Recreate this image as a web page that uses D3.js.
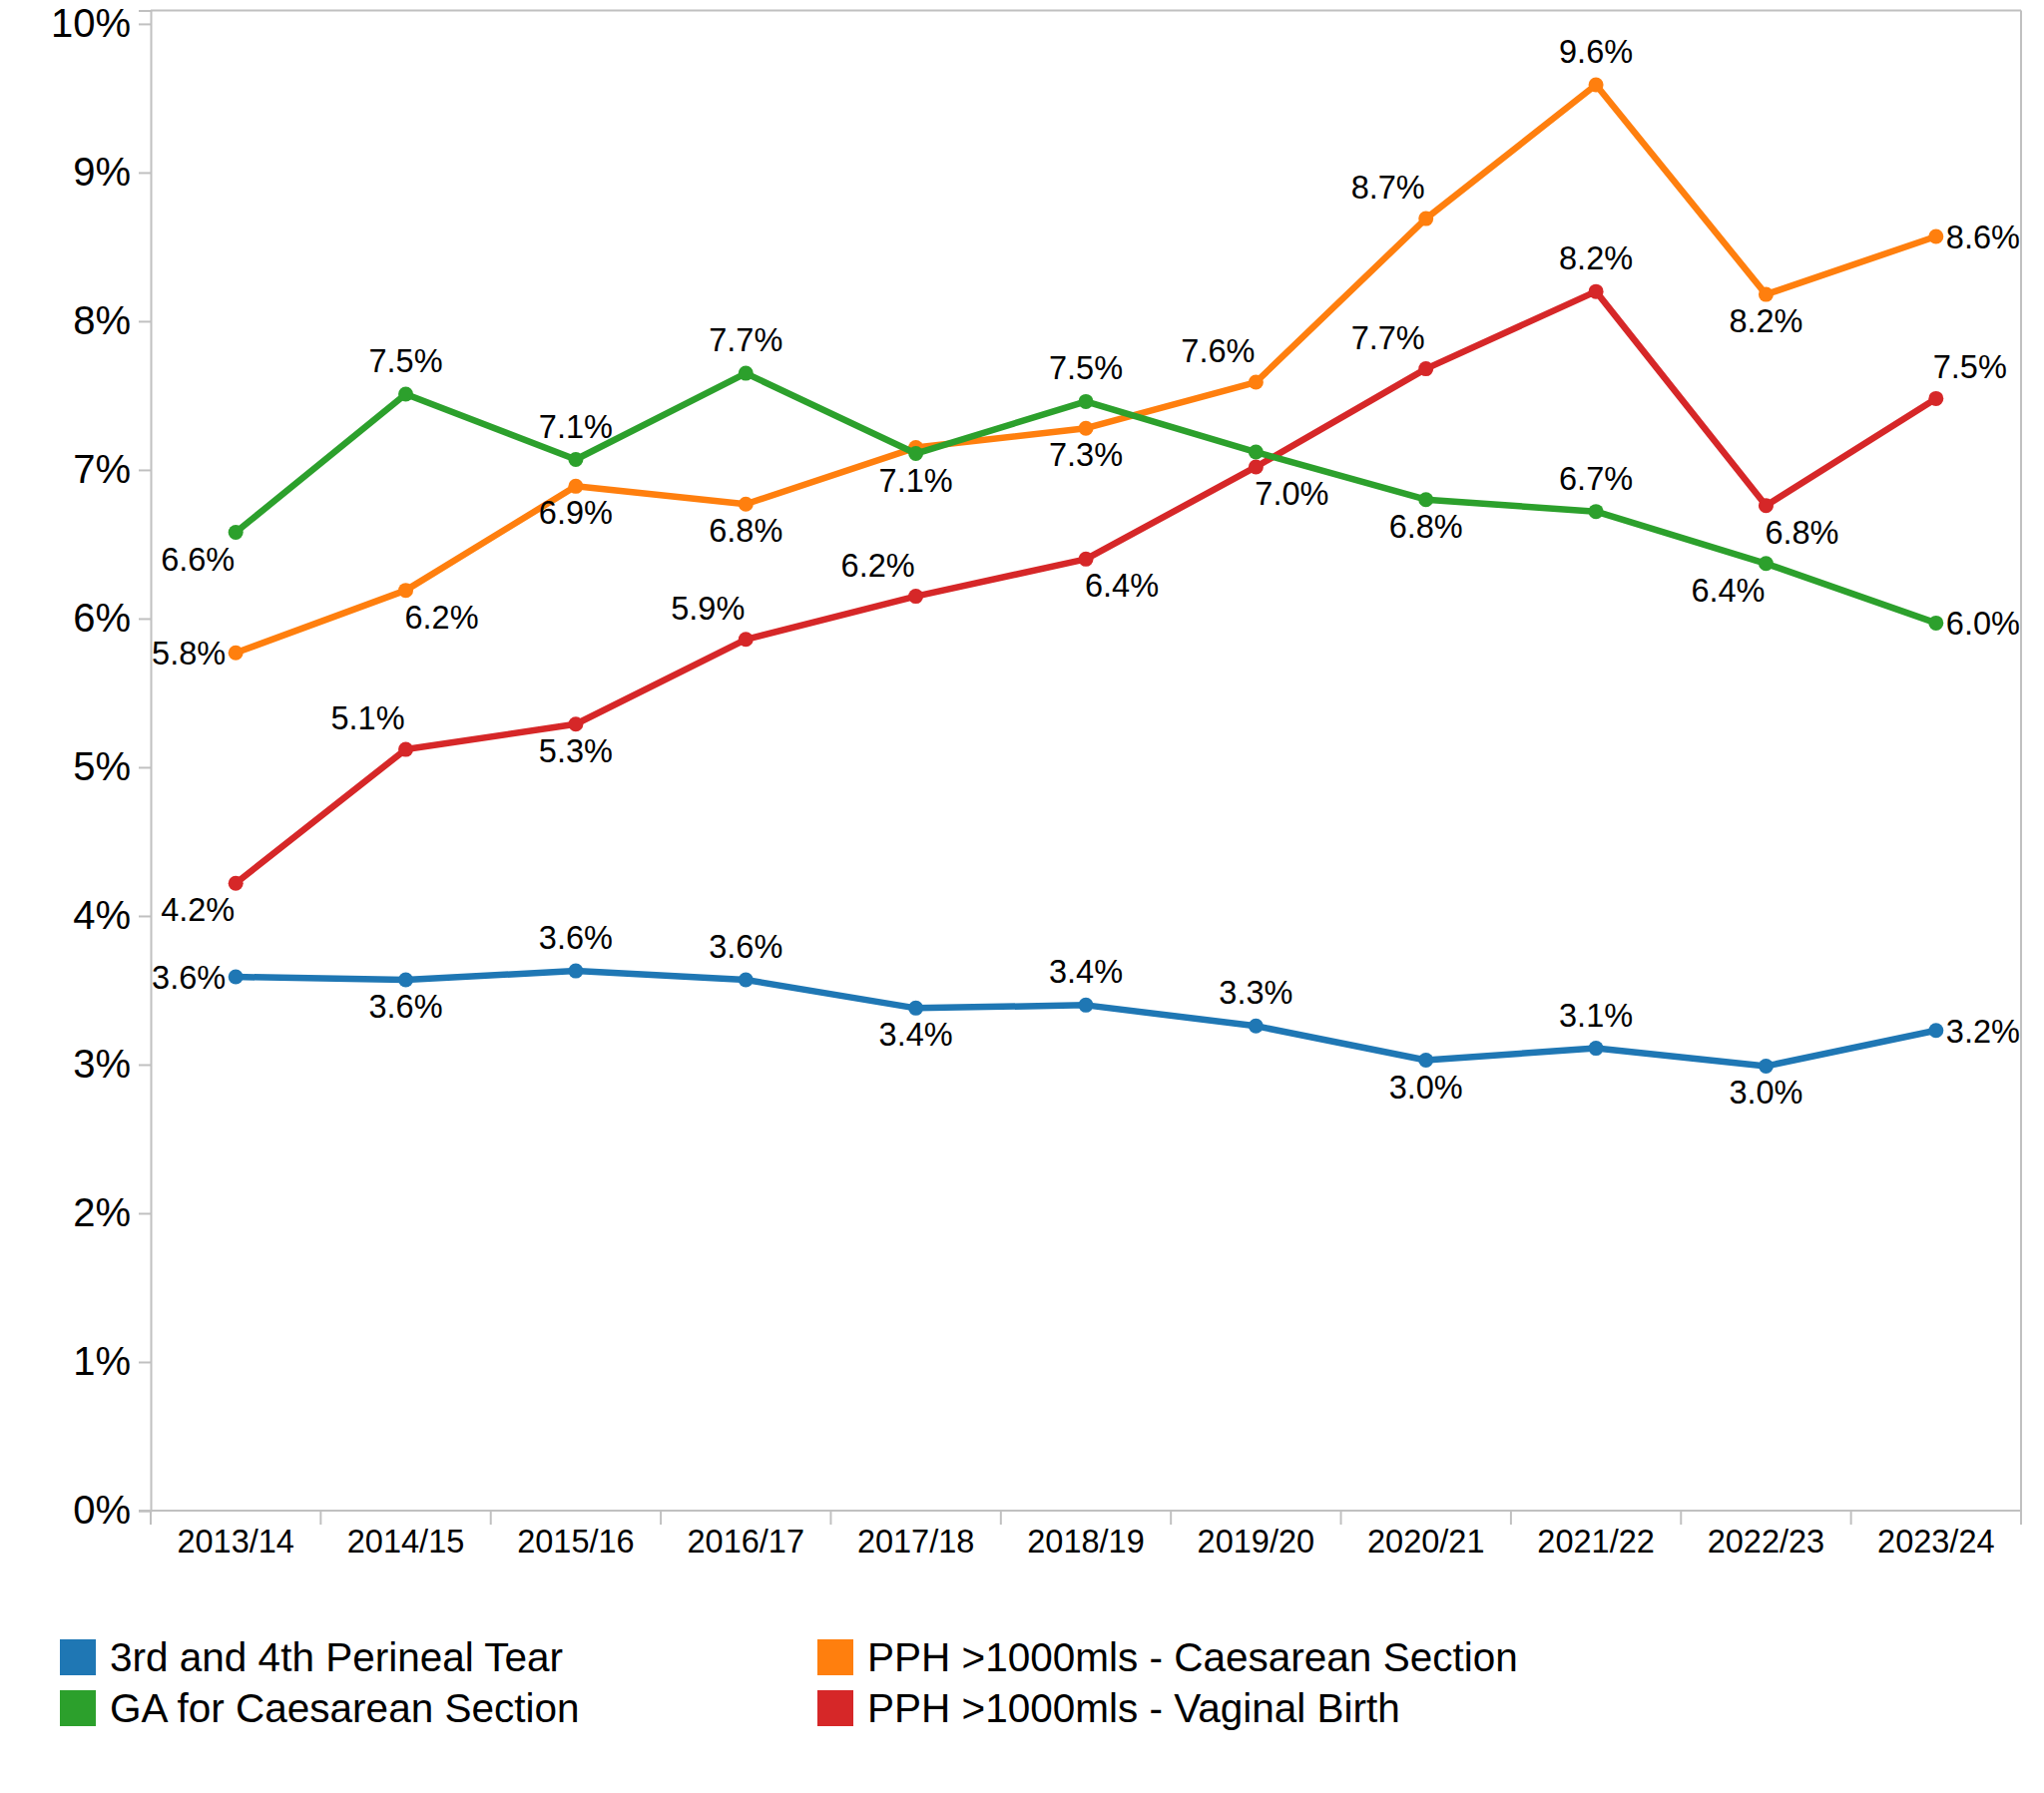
<!DOCTYPE html>
<html>
<head>
<meta charset="utf-8">
<script src="https://cdn.jsdelivr.net/npm/d3@7"></script>
<style>
  html, body { margin: 0; padding: 0; background: #fff; }
  svg { display: block; font-family: "Liberation Sans", Arial, sans-serif; }
</style>
</head>
<body>
<svg id="chart" width="2048" height="1797"></svg>
<script>
// ---- data ----
const categories = ["2013/14","2014/15","2015/16","2016/17","2017/18","2018/19","2019/20","2020/21","2021/22","2022/23","2023/24"];
const yTicks = [0,1,2,3,4,5,6,7,8,9,10];

const seriesNames = ["3rd and 4th Perineal Tear","GA for Caesarean Section","PPH >1000mls - Caesarean Section","PPH >1000mls - Vaginal Birth"];

const perinealTear = [3.59, 3.57, 3.63, 3.57, 3.38, 3.40, 3.26, 3.03, 3.11, 2.99, 3.23];
const gaCaesarean  = [6.58, 7.51, 7.07, 7.65, 7.11, 7.46, 7.12, 6.80, 6.72, 6.37, 5.97];
const pphCaesarean = [5.77, 6.19, 6.89, 6.77, 7.15, 7.28, 7.59, 8.69, 9.59, 8.18, 8.57];
const pphVaginal   = [4.22, 5.12, 5.29, 5.86, 6.15, 6.40, 7.02, 7.68, 8.20, 6.76, 7.48];

// label placement per point (null = label hidden)
const perinealTearPlace = ["l","b","t","t","b","t","t","b","t","b","r"];
const gaCaesareanPlace  = ["bl","t","t","t","b","t",null,"b","t","bl","r"];
const pphCaesareanPlace = ["l","br","b","b",null,"b","tl","tl","t","b","r"];
const pphVaginalPlace   = ["bl","tl","b","tl","tl","br","br","tl","t","br","tr"];

const colors = ["#1f77b4","#2ca02c","#ff7f0e","#d62728"];

const series = [
  {name: seriesNames[0], values: perinealTear, place: perinealTearPlace, color: colors[0], order: 3},
  {name: seriesNames[1], values: gaCaesarean,  place: gaCaesareanPlace,  color: colors[1], order: 2},
  {name: seriesNames[2], values: pphCaesarean, place: pphCaesareanPlace, color: colors[2], order: 0},
  {name: seriesNames[3], values: pphVaginal,   place: pphVaginalPlace,   color: colors[3], order: 1}
];

// ---- layout ----
const svg = d3.select("#chart");
const pLeft = 151, pRight = 2025, pTop = 10.5, pBottom = 1514;

const x = d3.scaleBand().domain(categories).range([pLeft, pRight]).paddingInner(0).paddingOuter(0);
const y = d3.scaleLinear().domain([0, 10.09]).range([pBottom, pTop]);
const cx = c => x(c) + x.bandwidth() / 2;

const axisColor = "#c0c0c0";

// frame top / right
svg.append("line").attr("x1", pLeft).attr("x2", pRight).attr("y1", pTop).attr("y2", pTop)
  .attr("stroke", axisColor).attr("stroke-width", 2);
svg.append("line").attr("x1", pRight).attr("x2", pRight).attr("y1", pTop).attr("y2", pBottom)
  .attr("stroke", axisColor).attr("stroke-width", 2);

// y axis
const yAxis = d3.axisLeft(y).tickValues(yTicks).tickFormat(d => d + "%").tickSize(12).tickPadding(8);
const gy = svg.append("g").attr("transform", `translate(${pLeft},0)`).call(yAxis);
gy.select(".domain").attr("stroke", axisColor).attr("stroke-width", 2);
gy.selectAll(".tick line").attr("stroke", axisColor).attr("stroke-width", 2);
gy.selectAll(".tick text").attr("font-size", 40).attr("fill", "#000")
  .attr("font-family", "Liberation Sans, Arial, sans-serif");

// x axis
const gx = svg.append("g");
gx.append("line").attr("x1", pLeft - 12).attr("x2", pRight).attr("y1", pBottom).attr("y2", pBottom)
  .attr("stroke", axisColor).attr("stroke-width", 2);
const boundaries = categories.map(c => x(c)).concat([pRight]);
gx.selectAll("line.xt").data(boundaries).join("line").attr("class", "xt")
  .attr("x1", d => d).attr("x2", d => d).attr("y1", pBottom).attr("y2", pBottom + 14)
  .attr("stroke", axisColor).attr("stroke-width", 2);
gx.selectAll("text").data(categories).join("text")
  .attr("x", d => cx(d)).attr("y", 1556)
  .attr("text-anchor", "middle").attr("font-size", 32.5).attr("fill", "#000")
  .text(d => d);

// lines
const line = d3.line().x((d, i) => cx(categories[i])).y(d => y(d));
const drawOrder = series.slice().sort((a, b) => a.order - b.order);

const gLines = svg.append("g");
drawOrder.forEach(s => {
  const g = gLines.append("g");
  g.append("path").datum(s.values).attr("d", line)
    .attr("fill", "none").attr("stroke", s.color).attr("stroke-width", 6.5)
    .attr("stroke-linejoin", "round").attr("stroke-linecap", "round");
  g.selectAll("circle").data(s.values).join("circle")
    .attr("cx", (d, i) => cx(categories[i])).attr("cy", d => y(d)).attr("r", 7.5)
    .attr("fill", s.color);
});

// labels
const off = {
  t:  {dx: 0,   dy: -22, anchor: "middle"},
  b:  {dx: 0,   dy: 38,  anchor: "middle"},
  l:  {dx: -10, dy: 12,  anchor: "end"},
  r:  {dx: 10,  dy: 12,  anchor: "start"},
  tl: {dx: -38, dy: -20, anchor: "middle"},
  tr: {dx: 34,  dy: -20, anchor: "middle"},
  bl: {dx: -38, dy: 38,  anchor: "middle"},
  br: {dx: 36,  dy: 38,  anchor: "middle"}
};
const gLab = svg.append("g");
series.forEach(s => {
  s.values.forEach((v, i) => {
    const p = s.place[i];
    if (!p) return;
    const o = off[p];
    gLab.append("text")
      .attr("x", cx(categories[i]) + o.dx).attr("y", y(v) + o.dy)
      .attr("text-anchor", o.anchor).attr("font-size", 32.5).attr("fill", "#000")
      .text(v.toFixed(1) + "%");
  });
});

// legend
const legendItems = [
  {name: seriesNames[0], color: colors[0], x: 60,  y: 1643},
  {name: seriesNames[2], color: colors[2], x: 819, y: 1643},
  {name: seriesNames[1], color: colors[1], x: 60,  y: 1694},
  {name: seriesNames[3], color: colors[3], x: 819, y: 1694}
];
const gLeg = svg.append("g");
legendItems.forEach(it => {
  gLeg.append("rect").attr("x", it.x).attr("y", it.y).attr("width", 36).attr("height", 36)
    .attr("fill", it.color);
  gLeg.append("text").attr("x", it.x + 50).attr("y", it.y + 32)
    .attr("font-size", 40.5).attr("fill", "#000").text(it.name);
});
</script>
</body>
</html>
